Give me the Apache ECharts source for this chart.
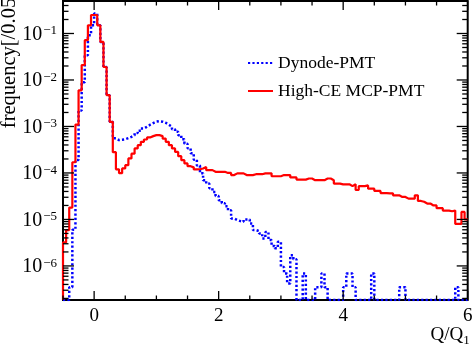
<!DOCTYPE html>
<html><head><meta charset="utf-8">
<script src="https://cdn.jsdelivr.net/npm/echarts@6/dist/echarts.min.js"></script>
<style>html,body{margin:0;padding:0;background:#fff}#c{width:474px;height:347px}</style>
</head><body><div id="c"></div>
<script>
// Histogram bins: left edge of first bin and bin width in Q/Q1
const binStart = -0.5;
const binWidth = 0.05;

// Dynode-PMT frequencies per bin (0 = empty bin)
const dynodePMT = [
  0, 0, 3.5e-7, 6e-6, 1.9e-4, 2.2e-3, 8.9e-3, 0.034, 0.092, 0.15,
  0.27, 0.15, 0.066, 0.019, 4.7e-3, 1.26e-3, 5.6e-4, 5.1e-4, 5.2e-4, 5.3e-4,
  5.6e-4, 6.0e-4, 6.5e-4, 7.2e-4, 8.1e-4, 9.0e-4, 9.9e-4, 1.09e-3, 1.18e-3, 1.27e-3,
  1.3e-3, 1.27e-3, 1.2e-3, 1.09e-3, 9.9e-4, 8.7e-4, 7.7e-4, 6.5e-4, 5.3e-4, 4.27e-4,
  3.4e-4, 2.67e-4, 1.93e-4, 1.44e-4, 9.9e-5, 7.0e-5, 5.9e-5, 4.7e-5, 3.9e-5, 3.2e-5,
  2.6e-5, 2.24e-5, 1.93e-5, 1.58e-5, 1.05e-5, 9.7e-6, 9.2e-6, 8.9e-6, 1.0e-5, 1.0e-5,
  8.2e-6, 5.9e-6, 5.6e-6, 5.0e-6, 3.9e-6, 5.4e-6, 3.6e-6, 2.7e-6, 2.4e-6, 3.3e-6,
  9.5e-7, 6.9e-7, 4.2e-7, 1.7e-6, 1.4e-6, 0, 0, 6.9e-7, 0, 0,
  0, 3.5e-7, 3.5e-7, 6.9e-7, 3.5e-7, 0, 0, 0, 0, 0,
  3.5e-7, 6.9e-7, 6.9e-7, 3.5e-7, 0, 0, 0, 0, 0, 6.9e-7,
  0, 0, 0, 0, 0, 0, 0, 0, 3.5e-7, 3.5e-7,
  0, 0, 0, 0, 0, 0, 0, 0, 0, 0,
  0, 0, 0, 0, 0, 0, 3.5e-7, 0, 0, 0
];

// High-CE MCP-PMT frequencies per bin
const mcpPMT = [
  3.2e-6, 5.9e-6, 1.8e-5, 1.7e-4, 1.1e-3, 6.0e-3, 0.021, 0.072, 0.15, 0.25,
  0.25, 0.15, 0.066, 0.019, 4.7e-3, 1.26e-3, 2.8e-4, 1.2e-4, 9.9e-5, 1.25e-4,
  1.47e-4, 2.05e-4, 2.6e-4, 3.37e-4, 3.96e-4, 4.67e-4, 5.25e-4, 5.8e-4, 6.2e-4, 6.5e-4,
  6.5e-4, 6.2e-4, 5.5e-4, 4.67e-4, 3.96e-4, 3.37e-4, 2.84e-4, 2.3e-4, 1.88e-4, 1.6e-4,
  1.4e-4, 1.32e-4, 1.19e-4, 1.2e-4, 1.25e-4, 1.35e-4, 1.15e-4, 1.15e-4, 1.06e-4, 1.06e-4,
  1.06e-4, 1.06e-4, 1.0e-4, 1.0e-4, 9.0e-5, 9.8e-5, 9.8e-5, 9.8e-5, 9.0e-5, 9.0e-5,
  9.0e-5, 9.4e-5, 9.4e-5, 9.4e-5, 9.8e-5, 9.8e-5, 9.8e-5, 8.5e-5, 8.5e-5, 8.5e-5,
  9.0e-5, 9.0e-5, 9.0e-5, 8.0e-5, 8.0e-5, 7.2e-5, 7.2e-5, 7.2e-5, 7.6e-5, 7.6e-5,
  7.0e-5, 7.0e-5, 7.0e-5, 7.0e-5, 7.6e-5, 7.6e-5, 7.0e-5, 5.9e-5, 5.9e-5, 5.7e-5,
  5.7e-5, 5.7e-5, 5.2e-5, 5.7e-5, 4.3e-5, 5.2e-5, 5.2e-5, 5.4e-5, 4.6e-5, 4.6e-5,
  4.1e-5, 4.1e-5, 3.7e-5, 3.7e-5, 3.65e-5, 3.65e-5, 3.3e-5, 3.3e-5, 3.05e-5, 3.05e-5,
  2.8e-5, 2.8e-5, 2.8e-5, 3.3e-5, 2.5e-5, 2.4e-5, 2.2e-5, 2.2e-5, 2.0e-5, 2.0e-5,
  1.75e-5, 1.75e-5, 1.55e-5, 1.55e-5, 1.5e-5, 1.55e-5, 8e-6, 8e-6, 1.45e-5, 1.0e-5
];

const seriesNames = ['Dynode-PMT', 'High-CE MCP-PMT'];
const xRange = [-0.5, 6];
const yRange = [1.85e-7, 0.5];
const xMajorTicks = [0, 2, 4, 6];
const xMinorTicks = [-0.5, 0.5, 1, 1.5, 2.5, 3, 3.5, 4.5, 5, 5.5];
const yDecades = [-6, -5, -4, -3, -2, -1];
const yMinorMantissas = [2, 3, 4, 5, 6, 7, 8, 9];
const xTitle = 'Q/Q';
const xTitleSub = '1';
const yTitle = 'frequency[/0.05]';

const FONT = '"Liberation Serif", "Times New Roman", serif';

function toSteps(vals) {
  const pts = [[binStart, yRange[0]]];
  vals.forEach((v, i) => pts.push([binStart + i * binWidth, v > 0 ? v : yRange[0]]));
  const last = vals[vals.length - 1];
  pts.push([binStart + vals.length * binWidth, last > 0 ? last : yRange[0]]);
  return pts;
}

const xTickData = xMajorTicks.map(v => [v, yRange[0], 1]).concat(xMinorTicks.map(v => [v, yRange[0], 0]));
const yTickData = [];
yDecades.forEach(e => yTickData.push([xRange[0], Math.pow(10, e), 1]));
[-7].concat(yDecades).forEach(e => yMinorMantissas.forEach(m => {
  const v = m * Math.pow(10, e);
  if (v > yRange[0] && v < yRange[1]) yTickData.push([xRange[0], v, 0]);
}));

function tickLine(x1, y1, x2, y2) {
  return {type: 'line', shape: {x1, y1, x2, y2}, style: {stroke: '#000', lineWidth: 1.3}};
}
function renderXTick(params, api) {
  const x = api.value(0), len = api.value(2) ? 9 : 4.5;
  const b = api.coord([x, yRange[0]]), t = api.coord([x, yRange[1]]);
  return {type: 'group', children: [tickLine(b[0], b[1], b[0], b[1] - len), tickLine(t[0], t[1], t[0], t[1] + len)]};
}
function renderYTick(params, api) {
  const y = api.value(1), len = api.value(2) ? 11 : 5.5;
  const l = api.coord([xRange[0], y]), r = api.coord([xRange[1], y]);
  return {type: 'group', children: [tickLine(l[0], l[1], l[0] + len, l[1]), tickLine(r[0], r[1], r[0] - len, r[1])]};
}

const chart = echarts.init(document.getElementById('c'), null, {renderer: 'canvas'});
chart.setOption({
  animation: false,
  backgroundColor: '#fff',
  grid: {
    left: 63, right: 6.3, top: 1, bottom: 47, show: true, borderColor: '#000', borderWidth: 2,
    backgroundColor: 'transparent', containLabel: false, outerBoundsMode: 'none'
  },
  legend: {
    data: seriesNames, orient: 'vertical', left: 242, top: 49,
    itemWidth: 25, itemHeight: 14, itemGap: 10,
    itemStyle: {opacity: 0},
    textStyle: {fontFamily: FONT, fontSize: 17.5, color: '#000'}
  },
  xAxis: {
    type: 'value', min: xRange[0], max: xRange[1], interval: 0.5,
    axisLine: {show: false}, axisTick: {show: false}, splitLine: {show: false},
    axisLabel: {
      margin: 7, fontFamily: FONT, fontSize: 19, color: '#000',
      formatter: v => (xMajorTicks.indexOf(v) >= 0 ? String(v) : '')
    },
    name: '{a|' + xTitle + '}{b|' + xTitleSub + '}', nameLocation: 'end', nameGap: 2,
    nameMoveOverlap: false,
    nameTextStyle: {
      align: 'right', verticalAlign: 'top', padding: [24, 0, 0, 0],
      rich: {a: {fontFamily: FONT, fontSize: 19, color: '#000'}, b: {fontFamily: FONT, fontSize: 13, color: '#000', padding: [10, 0, 0, 0]}}
    }
  },
  yAxis: [
    {
      type: 'log', logBase: 10, min: yRange[0], max: yRange[1], splitNumber: 6,
      axisLine: {show: false}, axisTick: {show: false}, splitLine: {show: false},
      minorTick: {show: false},
      axisLabel: {
        margin: 6, color: '#000',
        formatter: v => {
          const e = Math.log10(v), r = Math.round(e);
          if (Math.abs(e - r) > 1e-6) return '';
          return '{b|10}{s|' + (r < 0 ? '\u2212' : '') + Math.abs(r) + '}';
        },
        rich: {
          b: {fontFamily: FONT, fontSize: 20, lineHeight: 22, color: '#000', verticalAlign: 'bottom', padding: [6, 0, 0, 0]},
          s: {fontFamily: FONT, fontSize: 13, lineHeight: 13, color: '#000', verticalAlign: 'top', padding: [2, 0, 0, 1]}
        }
      }
    },
    {
      // carries only the rotated axis title, placed left of the tick labels
      type: 'log', logBase: 10, min: yRange[0], max: yRange[1], position: 'left', offset: 53,
      axisLine: {show: false}, axisTick: {show: false}, splitLine: {show: false},
      axisLabel: {show: false}, minorTick: {show: false},
      name: yTitle, nameLocation: 'end', nameRotate: 90, nameGap: 10,
      nameMoveOverlap: false,
      nameTextStyle: {fontFamily: FONT, fontSize: 20.5, color: '#000', align: 'right', verticalAlign: 'middle'}
    }
  ],
  series: [
    {
      name: seriesNames[0], type: 'line', step: 'end', symbol: 'none', clip: true,
      data: toSteps(dynodePMT), z: 3,
      lineStyle: {color: '#0000ff', width: 2.5, type: [2.2, 2.2]}, itemStyle: {color: '#0000ff'}
    },
    {
      name: seriesNames[1], type: 'line', step: 'end', symbol: 'none', clip: true,
      data: toSteps(mcpPMT), z: 4,
      lineStyle: {color: '#ff0000', width: 2.2, type: 'solid'}, itemStyle: {color: '#ff0000'}
    },
    {type: 'custom', data: xTickData, renderItem: renderXTick, silent: true, z: 5, clip: false},
    {type: 'custom', data: yTickData, renderItem: renderYTick, silent: true, z: 5, clip: false}
  ]
});
</script></body></html>
